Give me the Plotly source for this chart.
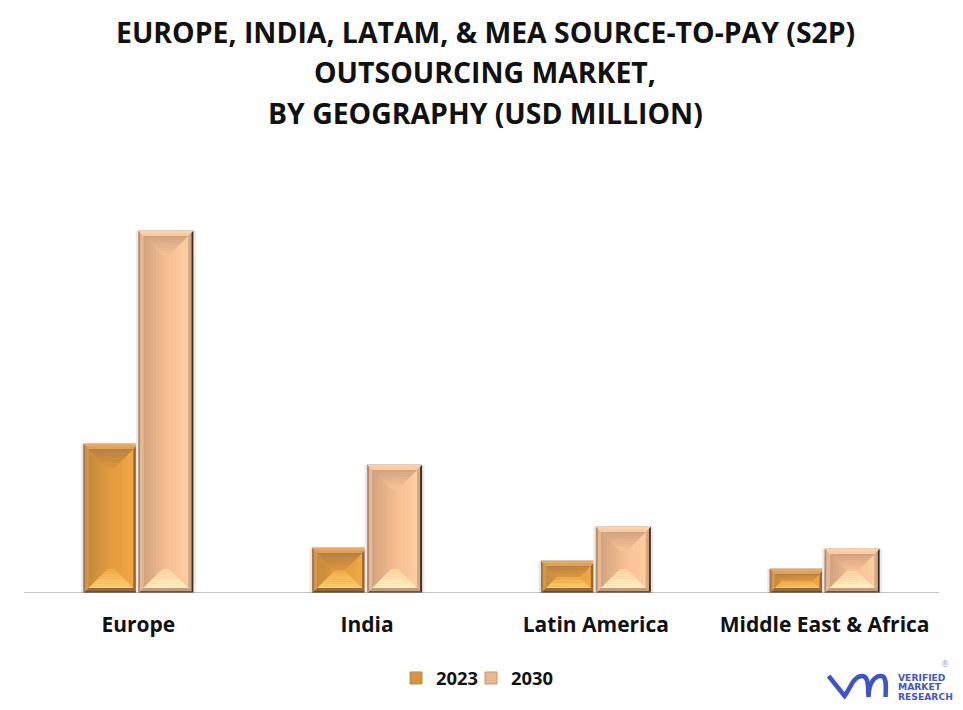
import plotly.graph_objects as go

title_lines = ["EUROPE, INDIA, LATAM, & MEA SOURCE-TO-PAY (S2P)", "OUTSOURCING MARKET,", "BY GEOGRAPHY (USD MILLION)"]
categories = ["Europe", "India", "Latin America", "Middle East & Africa"]
values_2023 = [149, 45, 32, 24]
values_2030 = [362, 128, 66, 44]

W, H = 963, 710
L, R, T, B = 23.5, 23.5, 193, 117
PW, PH = W - L - R, H - T - B
YMAX = 400
XU = PW / 4            # px per category
YU = PH / YMAX         # px per value unit
BW = 55 / XU           # bar width, category units
FONT = "Open Sans"


def lerp(c1, c2, t):
    return "rgb(" + ",".join(str(round(a + (b - a) * t)) for a, b in zip(c1, c2)) + ")"


STY = {
    "2023": dict(base="#D8943C", edge="#B98A58", face_l=(196, 138, 62), face_m=(230, 156, 62), face_r=(242, 168, 70),
                 top1=(176, 126, 66), top2=(222, 150, 64), bot1=(240, 170, 72), bot2=(255, 208, 112),
                 rt_o=(226, 170, 108), rt_i=(226, 160, 88),
                 rl_o=(160, 120, 76), rl_i=(214, 150, 76),
                 rr_o=(84, 58, 32), rr_i=(150, 104, 52),
                 rb_o=(108, 76, 42), rb_i=(150, 106, 56)),
    "2030": dict(base="#EDB88E", edge="#BE9878", face_l=(208, 162, 126), face_m=(248, 192, 144), face_r=(255, 206, 162),
                 top1=(206, 162, 128), top2=(248, 196, 150), bot1=(252, 210, 162), bot2=(255, 242, 192),
                 rt_o=(250, 210, 170), rt_i=(252, 204, 160),
                 rl_o=(176, 140, 112), rl_i=(232, 184, 144),
                 rr_o=(62, 46, 34), rr_i=(214, 168, 130),
                 rb_o=(110, 84, 64), rb_i=(196, 154, 122)),
}


def add_polys(fig, polys, color):
    xs, ys = [], []
    for p in polys:
        for a, b in p:
            xs.append(a)
            ys.append(b)
        xs.append(p[0][0])
        ys.append(p[0][1])
        xs.append(None)
        ys.append(None)
    fig.add_trace(go.Scatter(x=xs, y=ys, mode="lines", fill="toself", fillcolor=color,
                             line=dict(width=0), hoverinfo="skip", showlegend=False))


def ring(x0, x1, y0, y1, dx, dy):
    """four mitred edge pieces between a rectangle and its inset"""
    a0, a1, b0, b1 = x0 + dx, x1 - dx, y0 + dy, y1 - dy
    return dict(t=[(x0, y1), (x1, y1), (a1, b1), (a0, b1)],
                b=[(x0, y0), (x1, y0), (a1, b0), (a0, b0)],
                l=[(x0, y0), (x0, y1), (a0, b1), (a0, b0)],
                r=[(x1, y0), (x1, y1), (a1, b1), (a1, b0)])


def bevel(fig, centers, values, offset, s):
    o_px, i_px = 2, 3
    rim_x, rim_y = (o_px + i_px) / XU, (o_px + i_px) / YU
    nstrip, nband = 14, 8
    strips = {i: [] for i in range(nstrip)}
    tops = {i: [] for i in range(nband)}
    bots = {i: [] for i in range(nband)}
    rims = {k: [] for k in ["rt_o", "rb_o", "rl_o", "rr_o", "rt_i", "rb_i", "rl_i", "rr_i"]}
    shadow = []
    for c, v in zip(centers, values):
        x0 = c + offset
        x1 = x0 + BW
        y0, y1 = 0, v
        ix0, ix1, iy0, iy1 = x0 + rim_x, x1 - rim_x, y0 + rim_y, y1 - rim_y
        sh = 2.5 / XU
        shadow.append([(x0 - sh, y0), (x0, y0), (x0, y1), (x0 - sh, y1)])
        shadow.append([(x1, y0), (x1 + sh, y0), (x1 + sh, y1), (x1, y1)])
        outer = ring(x0, x1, y0, y1, o_px / XU, o_px / YU)
        inner = ring(x0 + o_px / XU, x1 - o_px / XU, y0 + o_px / YU, y1 - o_px / YU, i_px / XU, i_px / YU)
        for k in "tblr":
            rims["r" + k + "_o"].append(outer[k])
            rims["r" + k + "_i"].append(inner[k])
        depth_px = min(19, (v * YU - 10) / 2)
        dx, dy = depth_px / XU, depth_px / YU
        for i in range(nstrip):
            a = ix0 + (ix1 - ix0) * i / nstrip
            b = ix0 + (ix1 - ix0) * (i + 1) / nstrip + 0.0008
            strips[i].append([(a, iy0), (min(b, ix1), iy0), (min(b, ix1), iy1), (a, iy1)])
        for i in range(nband):
            t0, t1 = i / nband, (i + 1) / nband
            tops[i].append([(ix0 + dx * t0, iy1 - dy * t0), (ix1 - dx * t0, iy1 - dy * t0),
                            (ix1 - dx * t1, iy1 - dy * t1), (ix0 + dx * t1, iy1 - dy * t1)])
            bots[i].append([(ix0 + dx * t0, iy0 + dy * t0), (ix1 - dx * t0, iy0 + dy * t0),
                            (ix1 - dx * t1, iy0 + dy * t1), (ix0 + dx * t1, iy0 + dy * t1)])
    add_polys(fig, shadow, "#E9E9E9")
    for i in range(nstrip):
        t = (i + 0.5) / nstrip
        col = lerp(s["face_l"], s["face_m"], t / 0.55) if t < 0.55 else lerp(s["face_m"], s["face_r"], (t - 0.55) / 0.45)
        add_polys(fig, strips[i], col)
    for i in range(nband):
        add_polys(fig, tops[i], lerp(s["top1"], s["top2"], (i + 0.5) / nband))
        add_polys(fig, bots[i], lerp(s["bot2"], s["bot1"], (i + 0.5) / nband))
    for k, p in rims.items():
        add_polys(fig, p, lerp(s[k], s[k], 0))


centers = list(range(len(categories)))
fig = go.Figure()
for name, vals, off, leg in [("2023", values_2023, -BW, "legend"), ("2030", values_2030, 0, "legend2")]:
    fig.add_trace(go.Bar(x=centers, y=vals, name=name, width=BW, offset=off, legend=leg,
                         marker=dict(color=STY[name]["base"], line=dict(width=1, color=STY[name]["edge"])),
                         hoverinfo="skip"))
bevel(fig, centers, values_2023, -BW, STY["2023"])
bevel(fig, centers, values_2030, 0, STY["2030"])


def px(x):
    return (x - L) / PW


def py(y):
    return (H - B - y) / PH


logo = "M %f %f L %f %f C %f %f %f %f %f %f C %f %f %f %f %f %f C %f %f %f %f %f %f C %f %f %f %f %f %f" % (
    px(829), py(676), px(845), py(696),
    px(850), py(690), px(853), py(677), px(862), py(676),
    px(870), py(675), px(868), py(690), px(869), py(697),
    px(869), py(682), px(876), py(675), px(882), py(676),
    px(888), py(677), px(886), py(690), px(886), py(697))
shapes = [dict(type="path", path=logo, xref="paper", yref="paper",
               line=dict(color="#3F52CC", width=4.5))]
logo_lines = [("VERIFIED", 677), ("MARKET", 686.5), ("RESEARCH", 696)]
ann = [dict(text=t, x=px(896), y=py(y), xref="paper", yref="paper", xanchor="left", yanchor="middle",
            showarrow=False, font=dict(family="DejaVu Sans", size=9.2, color="#4557C8", weight="bold"))
       for t, y in logo_lines]
ann.append(dict(text="®", x=px(952), y=py(671), xref="paper", yref="paper", showarrow=False,
                font=dict(family="DejaVu Sans", size=8, color="#9AA5DD")))
for t, y in zip(title_lines, [32, 72, 113]):
    ann.append(dict(text=t, x=px(485.5), y=py(y), xref="paper", yref="paper", xanchor="center", yanchor="middle",
                    showarrow=False, font=dict(family=FONT, size=28.4, color="#111111", weight="bold")))

legend_font = dict(family=FONT, size=18.4, color="#111111", weight="bold")
clear = "rgba(0,0,0,0)"
fig.update_layout(
    width=W, height=H, autosize=False,
    margin=dict(l=L, r=R, t=T, b=B),
    paper_bgcolor="white", plot_bgcolor="white",
    xaxis=dict(range=[-0.5, 3.5], tickmode="array", tickvals=centers, ticktext=categories,
               showgrid=False, zeroline=False, showline=False, ticks="", ticklabelstandoff=17,
               tickfont=dict(family=FONT, size=21, color="#111111", weight="bold")),
    yaxis=dict(range=[0, YMAX], visible=False),
    legend=dict(orientation="h", x=396 / W, xref="container", xanchor="left", y=1 - 678 / H, yref="container",
                yanchor="middle", font=legend_font, bgcolor=clear),
    legend2=dict(orientation="h", x=471 / W, xref="container", xanchor="left", y=1 - 678 / H, yref="container",
                 yanchor="middle", font=legend_font, bgcolor=clear),
    shapes=shapes + [dict(type="line", xref="paper", yref="y", x0=0, x1=1, y0=0, y1=0,
                          line=dict(color="#8C8C8C", width=1.2))],
    annotations=ann,
    showlegend=True,
)
fig.write_html("out.html", config=dict(displayModeBar=False), post_script="document.body.style.margin='0';")
